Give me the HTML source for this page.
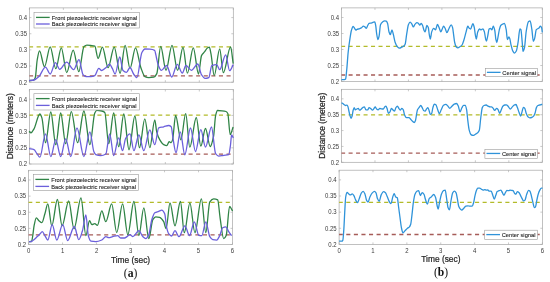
<!DOCTYPE html>
<html><head><meta charset="utf-8"><style>
html,body{margin:0;padding:0;background:#fff;overflow:hidden;}
svg{display:block;}
.tk{font-family:"Liberation Sans",Arial,sans-serif;font-size:6px;fill:#3a3a3a;}
.lb{font-family:"Liberation Sans",Arial,sans-serif;font-size:8.4px;fill:#262626;stroke:#262626;stroke-width:0.22px;}
.lg{font-family:"Liberation Sans",Arial,sans-serif;font-size:5.75px;fill:#262626;stroke:#262626;stroke-width:0.1px;}
.cap{font-family:"Liberation Serif",serif;font-weight:bold;font-size:11.6px;fill:#111;}
.par{font-weight:normal;}
</style></head><body>
<svg width="550" height="282" viewBox="0 0 550 282">
<rect x="29.4" y="7.9" width="203.90" height="74.30" fill="#fff" stroke="#a6a6a6" stroke-width="0.7"/>
<line x1="29.4" y1="82.20" x2="31.4" y2="82.20" stroke="#a6a6a6" stroke-width="0.6"/>
<line x1="233.3" y1="82.20" x2="231.3" y2="82.20" stroke="#a6a6a6" stroke-width="0.6"/>
<text transform="translate(27.00,84.55) scale(1,1.18)" class="tk" text-anchor="end">0.2</text>
<line x1="29.4" y1="66.05" x2="31.4" y2="66.05" stroke="#a6a6a6" stroke-width="0.6"/>
<line x1="233.3" y1="66.05" x2="231.3" y2="66.05" stroke="#a6a6a6" stroke-width="0.6"/>
<text transform="translate(27.00,68.40) scale(1,1.18)" class="tk" text-anchor="end">0.25</text>
<line x1="29.4" y1="49.90" x2="31.4" y2="49.90" stroke="#a6a6a6" stroke-width="0.6"/>
<line x1="233.3" y1="49.90" x2="231.3" y2="49.90" stroke="#a6a6a6" stroke-width="0.6"/>
<text transform="translate(27.00,52.25) scale(1,1.18)" class="tk" text-anchor="end">0.3</text>
<line x1="29.4" y1="33.74" x2="31.4" y2="33.74" stroke="#a6a6a6" stroke-width="0.6"/>
<line x1="233.3" y1="33.74" x2="231.3" y2="33.74" stroke="#a6a6a6" stroke-width="0.6"/>
<text transform="translate(27.00,36.09) scale(1,1.18)" class="tk" text-anchor="end">0.35</text>
<line x1="29.4" y1="17.59" x2="31.4" y2="17.59" stroke="#a6a6a6" stroke-width="0.6"/>
<line x1="233.3" y1="17.59" x2="231.3" y2="17.59" stroke="#a6a6a6" stroke-width="0.6"/>
<text transform="translate(27.00,19.94) scale(1,1.18)" class="tk" text-anchor="end">0.4</text>
<line x1="29.40" y1="82.2" x2="29.40" y2="80.2" stroke="#a6a6a6" stroke-width="0.6"/>
<line x1="29.40" y1="7.9" x2="29.40" y2="9.9" stroke="#a6a6a6" stroke-width="0.6"/>
<line x1="63.38" y1="82.2" x2="63.38" y2="80.2" stroke="#a6a6a6" stroke-width="0.6"/>
<line x1="63.38" y1="7.9" x2="63.38" y2="9.9" stroke="#a6a6a6" stroke-width="0.6"/>
<line x1="97.37" y1="82.2" x2="97.37" y2="80.2" stroke="#a6a6a6" stroke-width="0.6"/>
<line x1="97.37" y1="7.9" x2="97.37" y2="9.9" stroke="#a6a6a6" stroke-width="0.6"/>
<line x1="131.35" y1="82.2" x2="131.35" y2="80.2" stroke="#a6a6a6" stroke-width="0.6"/>
<line x1="131.35" y1="7.9" x2="131.35" y2="9.9" stroke="#a6a6a6" stroke-width="0.6"/>
<line x1="165.33" y1="82.2" x2="165.33" y2="80.2" stroke="#a6a6a6" stroke-width="0.6"/>
<line x1="165.33" y1="7.9" x2="165.33" y2="9.9" stroke="#a6a6a6" stroke-width="0.6"/>
<line x1="199.32" y1="82.2" x2="199.32" y2="80.2" stroke="#a6a6a6" stroke-width="0.6"/>
<line x1="199.32" y1="7.9" x2="199.32" y2="9.9" stroke="#a6a6a6" stroke-width="0.6"/>
<line x1="233.30" y1="82.2" x2="233.30" y2="80.2" stroke="#a6a6a6" stroke-width="0.6"/>
<line x1="233.30" y1="7.9" x2="233.30" y2="9.9" stroke="#a6a6a6" stroke-width="0.6"/>
<rect x="29.4" y="89.5" width="203.90" height="74.50" fill="#fff" stroke="#a6a6a6" stroke-width="0.7"/>
<line x1="29.4" y1="164.00" x2="31.4" y2="164.00" stroke="#a6a6a6" stroke-width="0.6"/>
<line x1="233.3" y1="164.00" x2="231.3" y2="164.00" stroke="#a6a6a6" stroke-width="0.6"/>
<text transform="translate(27.00,166.35) scale(1,1.18)" class="tk" text-anchor="end">0.2</text>
<line x1="29.4" y1="147.80" x2="31.4" y2="147.80" stroke="#a6a6a6" stroke-width="0.6"/>
<line x1="233.3" y1="147.80" x2="231.3" y2="147.80" stroke="#a6a6a6" stroke-width="0.6"/>
<text transform="translate(27.00,150.15) scale(1,1.18)" class="tk" text-anchor="end">0.25</text>
<line x1="29.4" y1="131.61" x2="31.4" y2="131.61" stroke="#a6a6a6" stroke-width="0.6"/>
<line x1="233.3" y1="131.61" x2="231.3" y2="131.61" stroke="#a6a6a6" stroke-width="0.6"/>
<text transform="translate(27.00,133.96) scale(1,1.18)" class="tk" text-anchor="end">0.3</text>
<line x1="29.4" y1="115.41" x2="31.4" y2="115.41" stroke="#a6a6a6" stroke-width="0.6"/>
<line x1="233.3" y1="115.41" x2="231.3" y2="115.41" stroke="#a6a6a6" stroke-width="0.6"/>
<text transform="translate(27.00,117.76) scale(1,1.18)" class="tk" text-anchor="end">0.35</text>
<line x1="29.4" y1="99.22" x2="31.4" y2="99.22" stroke="#a6a6a6" stroke-width="0.6"/>
<line x1="233.3" y1="99.22" x2="231.3" y2="99.22" stroke="#a6a6a6" stroke-width="0.6"/>
<text transform="translate(27.00,101.57) scale(1,1.18)" class="tk" text-anchor="end">0.4</text>
<line x1="29.40" y1="164.0" x2="29.40" y2="162.0" stroke="#a6a6a6" stroke-width="0.6"/>
<line x1="29.40" y1="89.5" x2="29.40" y2="91.5" stroke="#a6a6a6" stroke-width="0.6"/>
<line x1="63.38" y1="164.0" x2="63.38" y2="162.0" stroke="#a6a6a6" stroke-width="0.6"/>
<line x1="63.38" y1="89.5" x2="63.38" y2="91.5" stroke="#a6a6a6" stroke-width="0.6"/>
<line x1="97.37" y1="164.0" x2="97.37" y2="162.0" stroke="#a6a6a6" stroke-width="0.6"/>
<line x1="97.37" y1="89.5" x2="97.37" y2="91.5" stroke="#a6a6a6" stroke-width="0.6"/>
<line x1="131.35" y1="164.0" x2="131.35" y2="162.0" stroke="#a6a6a6" stroke-width="0.6"/>
<line x1="131.35" y1="89.5" x2="131.35" y2="91.5" stroke="#a6a6a6" stroke-width="0.6"/>
<line x1="165.33" y1="164.0" x2="165.33" y2="162.0" stroke="#a6a6a6" stroke-width="0.6"/>
<line x1="165.33" y1="89.5" x2="165.33" y2="91.5" stroke="#a6a6a6" stroke-width="0.6"/>
<line x1="199.32" y1="164.0" x2="199.32" y2="162.0" stroke="#a6a6a6" stroke-width="0.6"/>
<line x1="199.32" y1="89.5" x2="199.32" y2="91.5" stroke="#a6a6a6" stroke-width="0.6"/>
<line x1="233.30" y1="164.0" x2="233.30" y2="162.0" stroke="#a6a6a6" stroke-width="0.6"/>
<line x1="233.30" y1="89.5" x2="233.30" y2="91.5" stroke="#a6a6a6" stroke-width="0.6"/>
<rect x="28.6" y="170.3" width="203.90" height="74.20" fill="#fff" stroke="#a6a6a6" stroke-width="0.7"/>
<line x1="28.6" y1="244.50" x2="30.6" y2="244.50" stroke="#a6a6a6" stroke-width="0.6"/>
<line x1="232.5" y1="244.50" x2="230.5" y2="244.50" stroke="#a6a6a6" stroke-width="0.6"/>
<text transform="translate(26.20,246.85) scale(1,1.18)" class="tk" text-anchor="end">0.2</text>
<line x1="28.6" y1="228.37" x2="30.6" y2="228.37" stroke="#a6a6a6" stroke-width="0.6"/>
<line x1="232.5" y1="228.37" x2="230.5" y2="228.37" stroke="#a6a6a6" stroke-width="0.6"/>
<text transform="translate(26.20,230.72) scale(1,1.18)" class="tk" text-anchor="end">0.25</text>
<line x1="28.6" y1="212.24" x2="30.6" y2="212.24" stroke="#a6a6a6" stroke-width="0.6"/>
<line x1="232.5" y1="212.24" x2="230.5" y2="212.24" stroke="#a6a6a6" stroke-width="0.6"/>
<text transform="translate(26.20,214.59) scale(1,1.18)" class="tk" text-anchor="end">0.3</text>
<line x1="28.6" y1="196.11" x2="30.6" y2="196.11" stroke="#a6a6a6" stroke-width="0.6"/>
<line x1="232.5" y1="196.11" x2="230.5" y2="196.11" stroke="#a6a6a6" stroke-width="0.6"/>
<text transform="translate(26.20,198.46) scale(1,1.18)" class="tk" text-anchor="end">0.35</text>
<line x1="28.6" y1="179.98" x2="30.6" y2="179.98" stroke="#a6a6a6" stroke-width="0.6"/>
<line x1="232.5" y1="179.98" x2="230.5" y2="179.98" stroke="#a6a6a6" stroke-width="0.6"/>
<text transform="translate(26.20,182.33) scale(1,1.18)" class="tk" text-anchor="end">0.4</text>
<line x1="28.60" y1="244.5" x2="28.60" y2="242.5" stroke="#a6a6a6" stroke-width="0.6"/>
<line x1="28.60" y1="170.3" x2="28.60" y2="172.3" stroke="#a6a6a6" stroke-width="0.6"/>
<text transform="translate(28.60,252.70) scale(1,1.18)" class="tk" text-anchor="middle">0</text>
<line x1="62.58" y1="244.5" x2="62.58" y2="242.5" stroke="#a6a6a6" stroke-width="0.6"/>
<line x1="62.58" y1="170.3" x2="62.58" y2="172.3" stroke="#a6a6a6" stroke-width="0.6"/>
<text transform="translate(62.58,252.70) scale(1,1.18)" class="tk" text-anchor="middle">1</text>
<line x1="96.57" y1="244.5" x2="96.57" y2="242.5" stroke="#a6a6a6" stroke-width="0.6"/>
<line x1="96.57" y1="170.3" x2="96.57" y2="172.3" stroke="#a6a6a6" stroke-width="0.6"/>
<text transform="translate(96.57,252.70) scale(1,1.18)" class="tk" text-anchor="middle">2</text>
<line x1="130.55" y1="244.5" x2="130.55" y2="242.5" stroke="#a6a6a6" stroke-width="0.6"/>
<line x1="130.55" y1="170.3" x2="130.55" y2="172.3" stroke="#a6a6a6" stroke-width="0.6"/>
<text transform="translate(130.55,252.70) scale(1,1.18)" class="tk" text-anchor="middle">3</text>
<line x1="164.53" y1="244.5" x2="164.53" y2="242.5" stroke="#a6a6a6" stroke-width="0.6"/>
<line x1="164.53" y1="170.3" x2="164.53" y2="172.3" stroke="#a6a6a6" stroke-width="0.6"/>
<text transform="translate(164.53,252.70) scale(1,1.18)" class="tk" text-anchor="middle">4</text>
<line x1="198.52" y1="244.5" x2="198.52" y2="242.5" stroke="#a6a6a6" stroke-width="0.6"/>
<line x1="198.52" y1="170.3" x2="198.52" y2="172.3" stroke="#a6a6a6" stroke-width="0.6"/>
<text transform="translate(198.52,252.70) scale(1,1.18)" class="tk" text-anchor="middle">5</text>
<line x1="232.50" y1="244.5" x2="232.50" y2="242.5" stroke="#a6a6a6" stroke-width="0.6"/>
<line x1="232.50" y1="170.3" x2="232.50" y2="172.3" stroke="#a6a6a6" stroke-width="0.6"/>
<text transform="translate(232.50,252.70) scale(1,1.18)" class="tk" text-anchor="middle">6</text>
<rect x="341.5" y="7.9" width="200.80" height="73.60" fill="#fff" stroke="#a6a6a6" stroke-width="0.7"/>
<line x1="341.5" y1="81.50" x2="343.5" y2="81.50" stroke="#a6a6a6" stroke-width="0.6"/>
<line x1="542.3" y1="81.50" x2="540.3" y2="81.50" stroke="#a6a6a6" stroke-width="0.6"/>
<text transform="translate(339.10,83.85) scale(1,1.18)" class="tk" text-anchor="end">0.2</text>
<line x1="341.5" y1="65.50" x2="343.5" y2="65.50" stroke="#a6a6a6" stroke-width="0.6"/>
<line x1="542.3" y1="65.50" x2="540.3" y2="65.50" stroke="#a6a6a6" stroke-width="0.6"/>
<text transform="translate(339.10,67.85) scale(1,1.18)" class="tk" text-anchor="end">0.25</text>
<line x1="341.5" y1="49.50" x2="343.5" y2="49.50" stroke="#a6a6a6" stroke-width="0.6"/>
<line x1="542.3" y1="49.50" x2="540.3" y2="49.50" stroke="#a6a6a6" stroke-width="0.6"/>
<text transform="translate(339.10,51.85) scale(1,1.18)" class="tk" text-anchor="end">0.3</text>
<line x1="341.5" y1="33.50" x2="343.5" y2="33.50" stroke="#a6a6a6" stroke-width="0.6"/>
<line x1="542.3" y1="33.50" x2="540.3" y2="33.50" stroke="#a6a6a6" stroke-width="0.6"/>
<text transform="translate(339.10,35.85) scale(1,1.18)" class="tk" text-anchor="end">0.35</text>
<line x1="341.5" y1="17.50" x2="343.5" y2="17.50" stroke="#a6a6a6" stroke-width="0.6"/>
<line x1="542.3" y1="17.50" x2="540.3" y2="17.50" stroke="#a6a6a6" stroke-width="0.6"/>
<text transform="translate(339.10,19.85) scale(1,1.18)" class="tk" text-anchor="end">0.4</text>
<line x1="341.50" y1="81.5" x2="341.50" y2="79.5" stroke="#a6a6a6" stroke-width="0.6"/>
<line x1="341.50" y1="7.9" x2="341.50" y2="9.9" stroke="#a6a6a6" stroke-width="0.6"/>
<line x1="374.97" y1="81.5" x2="374.97" y2="79.5" stroke="#a6a6a6" stroke-width="0.6"/>
<line x1="374.97" y1="7.9" x2="374.97" y2="9.9" stroke="#a6a6a6" stroke-width="0.6"/>
<line x1="408.43" y1="81.5" x2="408.43" y2="79.5" stroke="#a6a6a6" stroke-width="0.6"/>
<line x1="408.43" y1="7.9" x2="408.43" y2="9.9" stroke="#a6a6a6" stroke-width="0.6"/>
<line x1="441.90" y1="81.5" x2="441.90" y2="79.5" stroke="#a6a6a6" stroke-width="0.6"/>
<line x1="441.90" y1="7.9" x2="441.90" y2="9.9" stroke="#a6a6a6" stroke-width="0.6"/>
<line x1="475.37" y1="81.5" x2="475.37" y2="79.5" stroke="#a6a6a6" stroke-width="0.6"/>
<line x1="475.37" y1="7.9" x2="475.37" y2="9.9" stroke="#a6a6a6" stroke-width="0.6"/>
<line x1="508.83" y1="81.5" x2="508.83" y2="79.5" stroke="#a6a6a6" stroke-width="0.6"/>
<line x1="508.83" y1="7.9" x2="508.83" y2="9.9" stroke="#a6a6a6" stroke-width="0.6"/>
<line x1="542.30" y1="81.5" x2="542.30" y2="79.5" stroke="#a6a6a6" stroke-width="0.6"/>
<line x1="542.30" y1="7.9" x2="542.30" y2="9.9" stroke="#a6a6a6" stroke-width="0.6"/>
<rect x="341.5" y="89.3" width="200.80" height="73.00" fill="#fff" stroke="#a6a6a6" stroke-width="0.7"/>
<line x1="341.5" y1="162.30" x2="343.5" y2="162.30" stroke="#a6a6a6" stroke-width="0.6"/>
<line x1="542.3" y1="162.30" x2="540.3" y2="162.30" stroke="#a6a6a6" stroke-width="0.6"/>
<text transform="translate(339.10,164.65) scale(1,1.18)" class="tk" text-anchor="end">0.2</text>
<line x1="341.5" y1="146.43" x2="343.5" y2="146.43" stroke="#a6a6a6" stroke-width="0.6"/>
<line x1="542.3" y1="146.43" x2="540.3" y2="146.43" stroke="#a6a6a6" stroke-width="0.6"/>
<text transform="translate(339.10,148.78) scale(1,1.18)" class="tk" text-anchor="end">0.25</text>
<line x1="341.5" y1="130.56" x2="343.5" y2="130.56" stroke="#a6a6a6" stroke-width="0.6"/>
<line x1="542.3" y1="130.56" x2="540.3" y2="130.56" stroke="#a6a6a6" stroke-width="0.6"/>
<text transform="translate(339.10,132.91) scale(1,1.18)" class="tk" text-anchor="end">0.3</text>
<line x1="341.5" y1="114.69" x2="343.5" y2="114.69" stroke="#a6a6a6" stroke-width="0.6"/>
<line x1="542.3" y1="114.69" x2="540.3" y2="114.69" stroke="#a6a6a6" stroke-width="0.6"/>
<text transform="translate(339.10,117.04) scale(1,1.18)" class="tk" text-anchor="end">0.35</text>
<line x1="341.5" y1="98.82" x2="343.5" y2="98.82" stroke="#a6a6a6" stroke-width="0.6"/>
<line x1="542.3" y1="98.82" x2="540.3" y2="98.82" stroke="#a6a6a6" stroke-width="0.6"/>
<text transform="translate(339.10,101.17) scale(1,1.18)" class="tk" text-anchor="end">0.4</text>
<line x1="341.50" y1="162.3" x2="341.50" y2="160.3" stroke="#a6a6a6" stroke-width="0.6"/>
<line x1="341.50" y1="89.3" x2="341.50" y2="91.3" stroke="#a6a6a6" stroke-width="0.6"/>
<line x1="374.97" y1="162.3" x2="374.97" y2="160.3" stroke="#a6a6a6" stroke-width="0.6"/>
<line x1="374.97" y1="89.3" x2="374.97" y2="91.3" stroke="#a6a6a6" stroke-width="0.6"/>
<line x1="408.43" y1="162.3" x2="408.43" y2="160.3" stroke="#a6a6a6" stroke-width="0.6"/>
<line x1="408.43" y1="89.3" x2="408.43" y2="91.3" stroke="#a6a6a6" stroke-width="0.6"/>
<line x1="441.90" y1="162.3" x2="441.90" y2="160.3" stroke="#a6a6a6" stroke-width="0.6"/>
<line x1="441.90" y1="89.3" x2="441.90" y2="91.3" stroke="#a6a6a6" stroke-width="0.6"/>
<line x1="475.37" y1="162.3" x2="475.37" y2="160.3" stroke="#a6a6a6" stroke-width="0.6"/>
<line x1="475.37" y1="89.3" x2="475.37" y2="91.3" stroke="#a6a6a6" stroke-width="0.6"/>
<line x1="508.83" y1="162.3" x2="508.83" y2="160.3" stroke="#a6a6a6" stroke-width="0.6"/>
<line x1="508.83" y1="89.3" x2="508.83" y2="91.3" stroke="#a6a6a6" stroke-width="0.6"/>
<line x1="542.30" y1="162.3" x2="542.30" y2="160.3" stroke="#a6a6a6" stroke-width="0.6"/>
<line x1="542.30" y1="89.3" x2="542.30" y2="91.3" stroke="#a6a6a6" stroke-width="0.6"/>
<rect x="339.1" y="170.2" width="203.30" height="74.20" fill="#fff" stroke="#a6a6a6" stroke-width="0.7"/>
<line x1="339.1" y1="244.40" x2="341.1" y2="244.40" stroke="#a6a6a6" stroke-width="0.6"/>
<line x1="542.4" y1="244.40" x2="540.4" y2="244.40" stroke="#a6a6a6" stroke-width="0.6"/>
<text transform="translate(336.70,246.75) scale(1,1.18)" class="tk" text-anchor="end">0.2</text>
<line x1="339.1" y1="228.27" x2="341.1" y2="228.27" stroke="#a6a6a6" stroke-width="0.6"/>
<line x1="542.4" y1="228.27" x2="540.4" y2="228.27" stroke="#a6a6a6" stroke-width="0.6"/>
<text transform="translate(336.70,230.62) scale(1,1.18)" class="tk" text-anchor="end">0.25</text>
<line x1="339.1" y1="212.14" x2="341.1" y2="212.14" stroke="#a6a6a6" stroke-width="0.6"/>
<line x1="542.4" y1="212.14" x2="540.4" y2="212.14" stroke="#a6a6a6" stroke-width="0.6"/>
<text transform="translate(336.70,214.49) scale(1,1.18)" class="tk" text-anchor="end">0.3</text>
<line x1="339.1" y1="196.01" x2="341.1" y2="196.01" stroke="#a6a6a6" stroke-width="0.6"/>
<line x1="542.4" y1="196.01" x2="540.4" y2="196.01" stroke="#a6a6a6" stroke-width="0.6"/>
<text transform="translate(336.70,198.36) scale(1,1.18)" class="tk" text-anchor="end">0.35</text>
<line x1="339.1" y1="179.88" x2="341.1" y2="179.88" stroke="#a6a6a6" stroke-width="0.6"/>
<line x1="542.4" y1="179.88" x2="540.4" y2="179.88" stroke="#a6a6a6" stroke-width="0.6"/>
<text transform="translate(336.70,182.23) scale(1,1.18)" class="tk" text-anchor="end">0.4</text>
<line x1="339.10" y1="244.4" x2="339.10" y2="242.4" stroke="#a6a6a6" stroke-width="0.6"/>
<line x1="339.10" y1="170.2" x2="339.10" y2="172.2" stroke="#a6a6a6" stroke-width="0.6"/>
<text transform="translate(339.10,252.60) scale(1,1.18)" class="tk" text-anchor="middle">0</text>
<line x1="372.98" y1="244.4" x2="372.98" y2="242.4" stroke="#a6a6a6" stroke-width="0.6"/>
<line x1="372.98" y1="170.2" x2="372.98" y2="172.2" stroke="#a6a6a6" stroke-width="0.6"/>
<text transform="translate(372.98,252.60) scale(1,1.18)" class="tk" text-anchor="middle">1</text>
<line x1="406.87" y1="244.4" x2="406.87" y2="242.4" stroke="#a6a6a6" stroke-width="0.6"/>
<line x1="406.87" y1="170.2" x2="406.87" y2="172.2" stroke="#a6a6a6" stroke-width="0.6"/>
<text transform="translate(406.87,252.60) scale(1,1.18)" class="tk" text-anchor="middle">2</text>
<line x1="440.75" y1="244.4" x2="440.75" y2="242.4" stroke="#a6a6a6" stroke-width="0.6"/>
<line x1="440.75" y1="170.2" x2="440.75" y2="172.2" stroke="#a6a6a6" stroke-width="0.6"/>
<text transform="translate(440.75,252.60) scale(1,1.18)" class="tk" text-anchor="middle">3</text>
<line x1="474.63" y1="244.4" x2="474.63" y2="242.4" stroke="#a6a6a6" stroke-width="0.6"/>
<line x1="474.63" y1="170.2" x2="474.63" y2="172.2" stroke="#a6a6a6" stroke-width="0.6"/>
<text transform="translate(474.63,252.60) scale(1,1.18)" class="tk" text-anchor="middle">4</text>
<line x1="508.52" y1="244.4" x2="508.52" y2="242.4" stroke="#a6a6a6" stroke-width="0.6"/>
<line x1="508.52" y1="170.2" x2="508.52" y2="172.2" stroke="#a6a6a6" stroke-width="0.6"/>
<text transform="translate(508.52,252.60) scale(1,1.18)" class="tk" text-anchor="middle">5</text>
<line x1="542.40" y1="244.4" x2="542.40" y2="242.4" stroke="#a6a6a6" stroke-width="0.6"/>
<line x1="542.40" y1="170.2" x2="542.40" y2="172.2" stroke="#a6a6a6" stroke-width="0.6"/>
<text transform="translate(542.40,252.60) scale(1,1.18)" class="tk" text-anchor="middle">6</text>
<line x1="29.4" y1="46.9" x2="233.3" y2="46.9" stroke="#b3bb2a" stroke-width="1.3" stroke-dasharray="4.102 3.495" stroke-dashoffset="0.4"/>
<line x1="29.4" y1="75.8" x2="233.3" y2="75.8" stroke="#a65c58" stroke-width="1.3" stroke-dasharray="4.102 3.495" stroke-dashoffset="0.4"/>
<line x1="29.4" y1="115.1" x2="233.3" y2="115.1" stroke="#b3bb2a" stroke-width="1.3" stroke-dasharray="4.102 3.495" stroke-dashoffset="0.4"/>
<line x1="29.4" y1="154.2" x2="233.3" y2="154.2" stroke="#a65c58" stroke-width="1.3" stroke-dasharray="4.102 3.495" stroke-dashoffset="0.4"/>
<line x1="28.6" y1="202.4" x2="232.5" y2="202.4" stroke="#b3bb2a" stroke-width="1.3" stroke-dasharray="4.102 3.495" stroke-dashoffset="0.4"/>
<line x1="28.6" y1="234.8" x2="232.5" y2="234.8" stroke="#a65c58" stroke-width="1.3" stroke-dasharray="4.102 3.495" stroke-dashoffset="0.4"/>
<line x1="341.5" y1="46.3" x2="542.3" y2="46.3" stroke="#b3bb2a" stroke-width="1.3" stroke-dasharray="4.040 3.441" stroke-dashoffset="0.4"/>
<line x1="341.5" y1="75.0" x2="542.3" y2="75.0" stroke="#a65c58" stroke-width="1.3" stroke-dasharray="4.040 3.441" stroke-dashoffset="0.4"/>
<line x1="341.5" y1="114.8" x2="542.3" y2="114.8" stroke="#b3bb2a" stroke-width="1.3" stroke-dasharray="4.040 3.441" stroke-dashoffset="0.4"/>
<line x1="341.5" y1="153.1" x2="542.3" y2="153.1" stroke="#a65c58" stroke-width="1.3" stroke-dasharray="4.040 3.441" stroke-dashoffset="0.4"/>
<line x1="339.1" y1="202.3" x2="542.4" y2="202.3" stroke="#b3bb2a" stroke-width="1.3" stroke-dasharray="4.090 3.484" stroke-dashoffset="0.4"/>
<line x1="339.1" y1="234.5" x2="542.4" y2="234.5" stroke="#a65c58" stroke-width="1.3" stroke-dasharray="4.090 3.484" stroke-dashoffset="0.4"/>
<path d="M29.00,80.60 C30.53,80.47 32.07,80.49 33.60,80.20 C34.17,80.09 34.73,79.02 35.30,77.50 C35.93,75.81 36.57,63.58 37.20,60.00 C37.97,55.67 38.73,50.80 39.50,50.80 C41.17,50.80 42.83,66.70 44.50,66.70 C46.40,66.70 48.30,46.80 50.20,46.80 C52.07,46.80 53.93,68.70 55.80,68.70 C57.63,68.70 59.47,47.80 61.30,47.80 C63.10,47.80 64.90,72.60 66.70,72.60 C68.87,72.60 71.03,50.20 73.20,50.20 C75.07,50.20 76.93,71.70 78.80,71.70 C80.53,71.70 82.27,48.10 84.00,46.60 C84.97,45.76 85.93,45.10 86.90,45.10 C88.23,45.10 89.57,45.33 90.90,45.50 C92.20,45.67 93.50,45.74 94.80,46.20 C95.90,46.59 97.00,58.40 98.10,58.40 C99.53,58.40 100.97,47.10 102.40,47.10 C104.30,47.10 106.20,67.70 108.10,67.70 C110.13,67.70 112.17,47.10 114.20,47.10 C116.17,47.10 118.13,73.30 120.10,73.30 C121.77,73.30 123.43,45.40 125.10,45.40 C126.73,45.40 128.37,68.40 130.00,68.40 C131.83,68.40 133.67,47.80 135.50,47.80 C137.30,47.80 139.10,62.77 140.90,67.70 C142.23,71.35 143.57,75.99 144.90,76.60 C146.20,77.20 147.50,77.60 148.80,77.60 C150.47,77.60 152.13,77.47 153.80,77.20 C154.80,77.04 155.80,75.59 156.80,73.60 C158.10,71.02 159.40,46.40 160.70,46.40 C162.47,46.40 164.23,70.40 166.00,70.40 C168.00,70.40 170.00,45.40 172.00,45.40 C173.87,45.40 175.73,70.40 177.60,70.40 C179.40,70.40 181.20,47.30 183.00,47.30 C184.47,47.30 185.93,73.20 187.40,73.20 C189.37,73.20 191.33,47.80 193.30,47.80 C195.03,47.80 196.77,74.00 198.50,74.00 C199.50,74.00 200.50,57.67 201.50,55.60 C202.40,53.74 203.30,53.33 204.20,52.20 C205.37,50.73 206.53,48.43 207.70,47.80 C208.23,47.51 208.77,47.20 209.30,47.20 C209.87,47.20 210.43,51.07 211.00,53.80 C212.07,58.94 213.13,75.70 214.20,75.70 C216.03,75.70 217.87,48.80 219.70,48.80 C220.90,48.80 222.10,72.70 223.30,72.70 C225.73,72.70 228.17,46.90 230.60,46.90 C231.47,46.90 232.33,58.10 233.20,63.70" fill="none" stroke="#308446" stroke-width="1.3" stroke-linejoin="round"/>
<path d="M29.00,80.60 C30.67,80.40 32.33,80.34 34.00,80.00 C35.63,79.67 37.27,78.10 38.90,76.60 C41.10,74.57 43.30,67.10 45.50,67.10 C47.07,67.10 48.63,74.00 50.20,74.00 C51.93,74.00 53.67,62.70 55.40,62.70 C56.83,62.70 58.27,69.30 59.70,69.30 C62.03,69.30 64.37,62.10 66.70,62.10 C69.00,62.10 71.30,69.70 73.60,69.70 C75.40,69.70 77.20,59.70 79.00,59.70 C80.33,59.70 81.67,73.14 83.00,74.60 C84.00,75.69 85.00,76.60 86.00,76.60 C87.63,76.60 89.27,76.60 90.90,76.60 C92.20,76.60 93.50,76.18 94.80,75.60 C96.13,75.00 97.47,68.40 98.80,68.40 C99.77,68.40 100.73,70.50 101.70,70.50 C103.10,70.50 104.50,68.83 105.90,67.70 C107.10,66.74 108.30,64.10 109.50,64.10 C110.43,64.10 111.37,66.78 112.30,68.40 C113.23,70.02 114.17,74.00 115.10,74.00 C116.67,74.00 118.23,57.00 119.80,57.00 C120.87,57.00 121.93,69.51 123.00,70.50 C124.17,71.58 125.33,72.30 126.50,72.30 C127.67,72.30 128.83,67.50 130.00,67.50 C131.20,67.50 132.40,72.37 133.60,74.00 C134.70,75.49 135.80,77.60 136.90,77.60 C138.57,77.60 140.23,55.50 141.90,52.50 C142.90,50.70 143.90,49.00 144.90,49.00 C146.53,49.00 148.17,49.09 149.80,49.20 C151.40,49.31 153.00,49.50 154.60,50.30 C155.23,50.62 155.87,55.41 156.50,58.00 C157.07,60.32 157.63,63.58 158.20,65.00 C159.27,67.67 160.33,70.40 161.40,70.40 C163.13,70.40 164.87,65.50 166.60,65.50 C168.30,65.50 170.00,77.00 171.70,77.00 C173.57,77.00 175.43,64.30 177.30,64.30 C178.97,64.30 180.63,73.00 182.30,73.00 C183.53,73.00 184.77,65.50 186.00,65.50 C187.80,65.50 189.60,70.40 191.40,70.40 C193.53,70.40 195.67,64.00 197.80,64.00 C199.03,64.00 200.27,72.80 201.50,74.70 C202.67,76.50 203.83,78.40 205.00,78.40 C206.27,78.40 207.53,78.12 208.80,77.60 C209.80,77.19 210.80,66.12 211.80,65.70 C213.43,65.02 215.07,64.70 216.70,64.70 C217.70,64.70 218.70,69.70 219.70,69.70 C221.70,69.70 223.70,54.80 225.70,54.80 C227.00,54.80 228.30,70.70 229.60,70.70 C230.80,70.70 232.00,66.70 233.20,64.70" fill="none" stroke="#6b5fdb" stroke-width="1.3" stroke-linejoin="round"/>
<path d="M29.00,131.40 C29.67,131.87 30.33,132.80 31.00,132.80 C32.00,132.80 33.00,130.49 34.00,128.80 C35.97,125.49 37.93,114.00 39.90,114.00 C40.57,114.00 41.23,115.98 41.90,117.90 C43.10,121.36 44.30,142.70 45.50,142.70 C47.27,142.70 49.03,112.00 50.80,112.00 C52.47,112.00 54.13,144.70 55.80,144.70 C57.43,144.70 59.07,113.00 60.70,113.00 C62.37,113.00 64.03,143.70 65.70,143.70 C67.57,143.70 69.43,111.60 71.30,111.60 C73.40,111.60 75.50,142.70 77.60,142.70 C79.70,142.70 81.80,111.00 83.90,111.00 C85.90,111.00 87.90,144.70 89.90,144.70 C91.53,144.70 93.17,116.23 94.80,113.00 C95.47,111.68 96.13,110.40 96.80,110.40 C98.47,110.40 100.13,110.67 101.80,111.00 C102.80,111.20 103.80,111.55 104.80,112.40 C106.10,113.50 107.40,143.70 108.70,143.70 C110.37,143.70 112.03,113.00 113.70,113.00 C115.37,113.00 117.03,146.70 118.70,146.70 C120.40,146.70 122.10,114.00 123.80,114.00 C125.53,114.00 127.27,149.70 129.00,149.70 C130.97,149.70 132.93,116.00 134.90,116.00 C136.43,116.00 137.97,147.70 139.50,147.70 C141.27,147.70 143.03,118.90 144.80,118.90 C146.47,118.90 148.13,147.70 149.80,147.70 C151.47,147.70 153.13,119.90 154.80,119.90 C155.43,119.90 156.07,129.38 156.70,131.80 C157.70,135.62 158.70,137.98 159.70,139.70 C161.03,142.00 162.37,144.02 163.70,144.70 C164.70,145.21 165.70,145.70 166.70,145.70 C167.53,145.70 168.37,141.70 169.20,141.70 C169.87,141.70 170.53,142.70 171.20,142.70 C171.67,142.70 172.13,141.18 172.60,139.70 C173.60,136.54 174.60,115.50 175.60,115.50 C177.37,115.50 179.13,139.80 180.90,139.80 C182.50,139.80 184.10,113.70 185.70,113.70 C187.07,113.70 188.43,147.20 189.80,147.20 C191.97,147.20 194.13,117.50 196.30,117.50 C197.80,117.50 199.30,146.20 200.80,146.20 C202.37,146.20 203.93,128.50 205.50,128.50 C207.07,128.50 208.63,146.50 210.20,146.50 C211.33,146.50 212.47,141.63 213.60,136.00 C214.27,132.69 214.93,118.42 215.60,115.60 C216.23,112.92 216.87,110.50 217.50,110.50 C219.00,110.50 220.50,110.65 222.00,110.80 C223.33,110.93 224.67,111.06 226.00,111.50 C226.60,111.70 227.20,112.36 227.80,113.50 C228.60,115.02 229.40,134.70 230.20,134.70 C231.17,134.70 232.13,129.57 233.10,127.00" fill="none" stroke="#308446" stroke-width="1.3" stroke-linejoin="round"/>
<path d="M29.00,148.70 C30.67,149.03 32.33,149.08 34.00,149.70 C34.97,150.06 35.93,152.37 36.90,153.60 C37.90,154.87 38.90,157.20 39.90,157.20 C41.77,157.20 43.63,133.80 45.50,133.80 C47.27,133.80 49.03,156.60 50.80,156.60 C52.47,156.60 54.13,139.70 55.80,139.70 C57.43,139.70 59.07,156.60 60.70,156.60 C62.37,156.60 64.03,138.80 65.70,138.80 C67.37,138.80 69.03,156.60 70.70,156.60 C72.80,156.60 74.90,128.00 77.00,128.00 C79.30,128.00 81.60,156.60 83.90,156.60 C85.90,156.60 87.90,131.80 89.90,131.80 C91.23,131.80 92.57,148.77 93.90,151.70 C94.53,153.09 95.17,154.35 95.80,154.60 C97.47,155.27 99.13,155.60 100.80,155.60 C102.47,155.60 104.13,155.04 105.80,154.00 C107.10,153.19 108.40,133.80 109.70,133.80 C111.03,133.80 112.37,155.60 113.70,155.60 C115.37,155.60 117.03,137.80 118.70,137.80 C120.00,137.80 121.30,150.70 122.60,150.70 C123.60,150.70 124.60,140.26 125.60,138.50 C127.07,135.92 128.53,133.80 130.00,133.80 C131.30,133.80 132.60,150.70 133.90,150.70 C135.57,150.70 137.23,134.80 138.90,134.80 C140.53,134.80 142.17,150.70 143.80,150.70 C145.80,150.70 147.80,129.80 149.80,129.80 C151.47,129.80 153.13,144.70 154.80,144.70 C156.10,144.70 157.40,128.32 158.70,127.80 C160.37,127.14 162.03,127.18 163.70,126.80 C165.33,126.43 166.97,125.50 168.60,125.50 C169.47,125.50 170.33,125.96 171.20,126.80 C171.87,127.44 172.53,136.07 173.20,139.70 C174.13,144.79 175.07,152.70 176.00,152.70 C177.43,152.70 178.87,131.90 180.30,131.90 C181.80,131.90 183.30,154.80 184.80,154.80 C186.70,154.80 188.60,128.00 190.50,128.00 C192.17,128.00 193.83,151.50 195.50,151.50 C197.27,151.50 199.03,129.60 200.80,129.60 C202.37,129.60 203.93,147.00 205.50,147.00 C207.50,147.00 209.50,127.00 211.50,127.00 C212.87,127.00 214.23,151.54 215.60,153.50 C216.63,154.98 217.67,156.10 218.70,156.10 C220.37,156.10 222.03,155.53 223.70,155.30 C225.37,155.07 227.03,155.16 228.70,154.70 C229.30,154.53 229.90,149.18 230.50,145.00 C230.87,142.45 231.23,134.80 231.60,134.80 C232.17,134.80 232.73,136.93 233.30,138.00" fill="none" stroke="#6b5fdb" stroke-width="1.3" stroke-linejoin="round"/>
<path d="M29.00,241.60 C29.87,241.50 30.73,241.52 31.60,241.30 C31.97,241.21 32.33,238.12 32.70,236.00 C33.17,233.31 33.63,228.01 34.10,225.70 C34.83,222.07 35.57,217.80 36.30,217.80 C37.17,217.80 38.03,219.97 38.90,220.70 C39.90,221.54 40.90,222.70 41.90,222.70 C42.90,222.70 43.90,216.98 44.90,213.80 C45.87,210.73 46.83,203.90 47.80,203.90 C49.13,203.90 50.47,225.70 51.80,225.70 C53.67,225.70 55.53,199.50 57.40,199.50 C58.97,199.50 60.53,225.70 62.10,225.70 C64.30,225.70 66.50,200.90 68.70,200.90 C70.47,200.90 72.23,228.70 74.00,228.70 C76.33,228.70 78.67,197.90 81.00,197.90 C82.63,197.90 84.27,235.60 85.90,235.60 C87.10,235.60 88.30,220.70 89.50,220.70 C90.30,220.70 91.10,224.70 91.90,224.70 C92.87,224.70 93.83,223.70 94.80,223.70 C95.67,223.70 96.53,225.30 97.40,225.30 C98.87,225.30 100.33,210.80 101.80,210.80 C103.13,210.80 104.47,221.70 105.80,221.70 C107.77,221.70 109.73,203.90 111.70,203.90 C113.37,203.90 115.03,232.60 116.70,232.60 C118.67,232.60 120.63,203.90 122.60,203.90 C124.33,203.90 126.07,234.60 127.80,234.60 C129.83,234.60 131.87,201.50 133.90,201.50 C135.57,201.50 137.23,235.60 138.90,235.60 C140.53,235.60 142.17,207.80 143.80,207.80 C145.47,207.80 147.13,238.60 148.80,238.60 C150.13,238.60 151.47,221.83 152.80,219.70 C153.77,218.16 154.73,216.80 155.70,216.80 C157.03,216.80 158.37,217.05 159.70,217.40 C161.03,217.75 162.37,219.52 163.70,221.70 C164.50,223.01 165.30,228.70 166.10,228.70 C167.40,228.70 168.70,202.90 170.00,202.90 C171.67,202.90 173.33,225.80 175.00,225.80 C176.80,225.80 178.60,201.50 180.40,201.50 C181.70,201.50 183.00,232.70 184.30,232.70 C186.17,232.70 188.03,202.90 189.90,202.90 C191.57,202.90 193.23,232.70 194.90,232.70 C197.07,232.70 199.23,198.90 201.40,198.90 C202.87,198.90 204.33,232.70 205.80,232.70 C207.13,232.70 208.47,203.76 209.80,201.90 C211.10,200.09 212.40,198.90 213.70,198.90 C215.03,198.90 216.37,199.20 217.70,199.90 C218.50,200.32 219.30,212.53 220.10,217.80 C221.30,225.70 222.50,238.70 223.70,238.70 C224.53,238.70 225.37,237.29 226.20,235.50 C227.33,233.07 228.47,206.50 229.60,206.50 C230.60,206.50 231.60,209.50 232.60,211.00" fill="none" stroke="#308446" stroke-width="1.3" stroke-linejoin="round"/>
<path d="M29.00,241.80 C29.83,241.70 30.67,241.67 31.50,241.50 C32.40,241.31 33.30,240.16 34.20,239.40 C35.13,238.61 36.07,237.68 37.00,236.80 C37.97,235.88 38.93,234.93 39.90,234.00 C40.70,233.23 41.50,231.70 42.30,231.70 C43.17,231.70 44.03,234.29 44.90,235.60 C45.87,237.06 46.83,240.00 47.80,240.00 C49.27,240.00 50.73,224.70 52.20,224.70 C53.73,224.70 55.27,240.00 56.80,240.00 C58.77,240.00 60.73,224.70 62.70,224.70 C64.37,224.70 66.03,240.60 67.70,240.60 C69.90,240.60 72.10,226.50 74.30,226.50 C75.80,226.50 77.30,239.60 78.80,239.60 C80.00,239.60 81.20,234.77 82.40,231.00 C83.57,227.33 84.73,215.00 85.90,215.00 C86.70,215.00 87.50,232.82 88.30,235.60 C89.17,238.61 90.03,241.05 90.90,241.20 C92.53,241.48 94.17,241.60 95.80,241.60 C97.80,241.60 99.80,240.84 101.80,240.00 C103.13,239.44 104.47,236.60 105.80,236.60 C106.77,236.60 107.73,237.60 108.70,237.60 C110.03,237.60 111.37,236.90 112.70,236.60 C114.37,236.23 116.03,235.60 117.70,235.60 C118.67,235.60 119.63,238.00 120.60,238.00 C121.93,238.00 123.27,238.00 124.60,238.00 C125.40,238.00 126.20,237.10 127.00,236.60 C128.00,235.98 129.00,234.60 130.00,234.60 C130.97,234.60 131.93,236.60 132.90,236.60 C134.90,236.60 136.90,230.70 138.90,230.70 C140.20,230.70 141.50,235.42 142.80,236.60 C143.80,237.51 144.80,238.60 145.80,238.60 C146.80,238.60 147.80,236.70 148.80,234.60 C149.80,232.50 150.80,222.84 151.80,219.70 C152.80,216.56 153.80,213.44 154.80,212.80 C156.10,211.97 157.40,211.89 158.70,211.40 C159.70,211.02 160.70,210.20 161.70,210.20 C162.70,210.20 163.70,211.65 164.70,213.80 C165.37,215.23 166.03,224.85 166.70,227.70 C167.33,230.41 167.97,232.76 168.60,233.60 C169.60,234.93 170.60,236.00 171.60,236.00 C172.73,236.00 173.87,230.70 175.00,230.70 C176.33,230.70 177.67,236.70 179.00,236.70 C180.97,236.70 182.93,225.80 184.90,225.80 C186.43,225.80 187.97,235.70 189.50,235.70 C191.10,235.70 192.70,221.80 194.30,221.80 C195.80,221.80 197.30,234.94 198.80,235.30 C199.80,235.54 200.80,235.70 201.80,235.70 C203.13,235.70 204.47,221.80 205.80,221.80 C207.13,221.80 208.47,234.65 209.80,236.70 C210.80,238.23 211.80,239.51 212.80,239.70 C214.10,239.95 215.40,240.10 216.70,240.10 C217.70,240.10 218.70,237.58 219.70,235.70 C220.70,233.82 221.70,228.39 222.70,227.80 C223.70,227.21 224.70,226.80 225.70,226.80 C226.70,226.80 227.70,230.21 228.70,231.70 C229.67,233.15 230.63,234.37 231.60,235.70" fill="none" stroke="#6b5fdb" stroke-width="1.3" stroke-linejoin="round"/>
<path d="M341.50,79.60 C342.50,79.60 343.50,79.60 344.50,79.60 C344.87,79.60 345.23,79.38 345.60,79.00 C345.97,78.63 346.33,73.53 346.70,70.00 C347.20,65.18 347.70,56.70 348.20,52.00 C348.70,47.30 349.20,43.73 349.70,40.40 C350.27,36.62 350.83,32.40 351.40,30.50 C351.97,28.60 352.53,26.50 353.10,26.50 C353.70,26.50 354.30,27.99 354.90,28.80 C355.23,29.25 355.57,30.20 355.90,30.20 C356.27,30.20 356.63,29.44 357.00,29.30 C357.73,29.02 358.47,29.02 359.20,28.80 C359.90,28.59 360.60,28.29 361.30,27.90 C362.00,27.51 362.70,26.20 363.40,26.20 C363.90,26.20 364.40,26.58 364.90,26.90 C365.37,27.20 365.83,28.30 366.30,28.30 C366.77,28.30 367.23,26.30 367.70,25.50 C368.17,24.70 368.63,23.52 369.10,23.40 C369.83,23.20 370.57,23.25 371.30,23.10 C372.00,22.95 372.70,22.40 373.40,22.20 C373.87,22.07 374.33,21.90 374.80,21.90 C375.13,21.90 375.47,24.24 375.80,26.20 C376.07,27.76 376.33,31.57 376.60,33.30 C377.03,36.11 377.47,39.70 377.90,39.70 C378.30,39.70 378.70,37.83 379.10,36.10 C379.57,34.08 380.03,25.96 380.50,24.80 C381.20,23.07 381.90,22.43 382.60,21.90 C383.30,21.37 384.00,20.80 384.70,20.80 C385.20,20.80 385.70,20.97 386.20,21.20 C386.67,21.41 387.13,22.23 387.60,23.40 C388.07,24.57 388.53,30.42 389.00,31.90 C389.43,33.27 389.87,34.70 390.30,34.70 C390.87,34.70 391.43,29.80 392.00,29.80 C392.47,29.80 392.93,32.90 393.40,34.70 C394.00,37.01 394.60,40.86 395.20,42.50 C395.93,44.50 396.67,46.07 397.40,46.80 C398.10,47.49 398.80,48.20 399.50,48.20 C400.20,48.20 400.90,47.54 401.60,47.20 C402.33,46.84 403.07,46.67 403.80,46.10 C404.27,45.74 404.73,45.14 405.20,44.00 C405.67,42.86 406.13,37.52 406.60,34.70 C407.20,31.08 407.80,26.23 408.40,24.80 C408.97,23.45 409.53,22.20 410.10,22.20 C410.70,22.20 411.30,23.26 411.90,24.10 C412.37,24.75 412.83,26.90 413.30,26.90 C413.90,26.90 414.50,24.70 415.10,24.10 C415.73,23.46 416.37,22.70 417.00,22.70 C417.47,22.70 417.93,23.07 418.40,23.40 C418.87,23.73 419.33,25.10 419.80,25.10 C420.27,25.10 420.73,23.40 421.20,23.40 C421.67,23.40 422.13,24.54 422.60,25.50 C423.10,26.53 423.60,29.54 424.10,30.50 C424.43,31.14 424.77,31.90 425.10,31.90 C425.70,31.90 426.30,25.50 426.90,25.50 C427.37,25.50 427.83,26.40 428.30,27.60 C428.63,28.46 428.97,32.91 429.30,34.70 C429.63,36.49 429.97,39.00 430.30,39.00 C430.77,39.00 431.23,33.22 431.70,31.90 C432.33,30.11 432.97,28.30 433.60,28.30 C434.27,28.30 434.93,29.80 435.60,29.80 C436.20,29.80 436.80,24.50 437.40,24.50 C437.97,24.50 438.53,26.40 439.10,27.60 C439.67,28.80 440.23,31.90 440.80,31.90 C441.27,31.90 441.73,29.95 442.20,29.00 C442.67,28.05 443.13,26.20 443.60,26.20 C444.10,26.20 444.60,27.42 445.10,28.30 C445.70,29.35 446.30,32.60 446.90,32.60 C447.53,32.60 448.17,30.15 448.80,29.00 C449.60,27.54 450.40,24.80 451.20,24.80 C451.67,24.80 452.13,26.10 452.60,27.60 C452.93,28.67 453.27,32.33 453.60,34.70 C453.97,37.30 454.33,40.90 454.70,42.50 C455.17,44.53 455.63,46.35 456.10,46.80 C456.70,47.38 457.30,47.80 457.90,47.80 C458.50,47.80 459.10,47.16 459.70,46.80 C460.40,46.38 461.10,46.14 461.80,45.40 C462.53,44.63 463.27,41.94 464.00,39.70 C464.70,37.56 465.40,34.36 466.10,31.90 C466.67,29.91 467.23,26.20 467.80,26.20 C468.27,26.20 468.73,27.95 469.20,28.30 C469.67,28.65 470.13,29.00 470.60,29.00 C471.37,29.00 472.13,23.60 472.90,23.60 C473.37,23.60 473.83,25.65 474.30,27.60 C474.63,28.99 474.97,32.91 475.30,34.70 C475.63,36.49 475.97,39.00 476.30,39.00 C476.77,39.00 477.23,33.03 477.70,31.90 C478.33,30.37 478.97,29.00 479.60,29.00 C480.10,29.00 480.60,29.80 481.10,29.80 C481.73,29.80 482.37,28.80 483.00,28.80 C483.47,28.80 483.93,30.42 484.40,31.90 C484.87,33.38 485.33,38.39 485.80,39.70 C486.03,40.35 486.27,41.10 486.50,41.10 C486.90,41.10 487.30,37.93 487.70,36.10 C488.17,33.97 488.63,29.42 489.10,29.00 C489.57,28.58 490.03,28.30 490.50,28.30 C490.97,28.30 491.43,29.80 491.90,29.80 C492.37,29.80 492.83,26.20 493.30,26.20 C493.80,26.20 494.30,28.28 494.80,30.50 C495.13,31.98 495.47,37.35 495.80,39.00 C496.13,40.65 496.47,42.50 496.80,42.50 C497.17,42.50 497.53,39.41 497.90,37.60 C498.37,35.30 498.83,31.65 499.30,29.80 C499.77,27.95 500.23,26.07 500.70,25.50 C501.33,24.72 501.97,24.39 502.60,24.10 C503.20,23.83 503.80,23.50 504.40,23.50 C505.00,23.50 505.60,26.71 506.20,29.70 C506.60,31.69 507.00,39.50 507.40,39.50 C507.90,39.50 508.40,36.80 508.90,36.80 C509.20,36.80 509.50,37.75 509.80,38.60 C510.20,39.73 510.60,43.12 511.00,44.80 C511.60,47.31 512.20,49.91 512.80,51.00 C513.37,52.03 513.93,53.10 514.50,53.10 C515.10,53.10 515.70,52.13 516.30,51.00 C516.90,49.87 517.50,45.65 518.10,42.10 C518.70,38.55 519.30,28.80 519.90,28.80 C520.23,28.80 520.57,29.17 520.90,29.70 C521.33,30.39 521.77,37.52 522.20,42.10 C522.47,44.92 522.73,51.40 523.00,51.40 C523.50,51.40 524.00,49.51 524.50,47.50 C525.07,45.22 525.63,34.96 526.20,31.50 C526.93,27.03 527.67,22.47 528.40,21.80 C528.97,21.28 529.53,20.90 530.10,20.90 C530.70,20.90 531.30,25.97 531.90,29.70 C532.37,32.60 532.83,41.30 533.30,41.30 C533.73,41.30 534.17,39.86 534.60,38.60 C535.17,36.95 535.73,30.37 536.30,29.70 C536.73,29.19 537.17,29.07 537.60,28.80 C538.07,28.51 538.53,28.37 539.00,28.00 C539.47,27.63 539.93,26.20 540.40,26.20 C540.83,26.20 541.27,26.90 541.70,28.00 C541.90,28.51 542.10,30.93 542.30,32.40" fill="none" stroke="#2f93d9" stroke-width="1.3" stroke-linejoin="round"/>
<path d="M341.50,102.70 C341.93,103.00 342.37,103.28 342.80,103.60 C343.30,103.97 343.80,104.49 344.30,104.80 C344.77,105.09 345.23,105.50 345.70,105.50 C346.07,105.50 346.43,105.10 346.80,105.10 C347.13,105.10 347.47,105.62 347.80,106.20 C348.13,106.78 348.47,109.04 348.80,110.50 C349.17,112.10 349.53,114.25 349.90,115.40 C350.30,116.66 350.70,118.30 351.10,118.30 C351.43,118.30 351.77,117.15 352.10,116.10 C352.43,115.05 352.77,111.70 353.10,110.50 C353.47,109.18 353.83,107.60 354.20,107.60 C354.57,107.60 354.93,109.80 355.30,109.80 C355.80,109.80 356.30,109.26 356.80,109.00 C357.27,108.76 357.73,108.30 358.20,108.30 C358.67,108.30 359.13,110.20 359.60,110.20 C360.17,110.20 360.73,109.47 361.30,109.00 C361.87,108.53 362.43,107.55 363.00,107.30 C363.47,107.10 363.93,106.90 364.40,106.90 C364.90,106.90 365.40,109.80 365.90,109.80 C366.50,109.80 367.10,109.80 367.70,109.80 C368.17,109.80 368.63,107.60 369.10,107.60 C369.73,107.60 370.37,108.30 371.00,108.80 C371.47,109.17 371.93,110.20 372.40,110.20 C372.97,110.20 373.53,108.98 374.10,108.30 C374.47,107.86 374.83,106.90 375.20,106.90 C375.67,106.90 376.13,108.63 376.60,109.00 C377.10,109.40 377.60,109.80 378.10,109.80 C378.67,109.80 379.23,108.30 379.80,108.30 C380.37,108.30 380.93,108.71 381.50,108.80 C382.10,108.90 382.70,109.00 383.30,109.00 C383.77,109.00 384.23,107.29 384.70,106.90 C385.10,106.57 385.50,106.20 385.90,106.20 C386.30,106.20 386.70,107.57 387.10,108.60 C387.53,109.71 387.97,113.30 388.40,113.30 C388.93,113.30 389.47,112.60 390.00,111.90 C390.47,111.28 390.93,108.30 391.40,108.30 C391.87,108.30 392.33,109.36 392.80,109.80 C393.37,110.33 393.93,111.20 394.50,111.20 C394.97,111.20 395.43,108.24 395.90,107.60 C396.40,106.91 396.90,106.20 397.40,106.20 C397.87,106.20 398.33,107.63 398.80,108.30 C399.27,108.96 399.73,110.20 400.20,110.20 C400.77,110.20 401.33,108.30 401.90,108.30 C402.37,108.30 402.83,109.00 403.30,109.80 C403.70,110.49 404.10,113.67 404.50,114.70 C404.97,115.90 405.43,117.12 405.90,117.30 C406.37,117.48 406.83,117.60 407.30,117.60 C407.87,117.60 408.43,117.60 409.00,117.60 C409.47,117.60 409.93,118.51 410.40,119.00 C411.03,119.66 411.67,120.52 412.30,121.10 C412.90,121.65 413.50,122.50 414.10,122.50 C414.57,122.50 415.03,121.55 415.50,120.40 C415.83,119.58 416.17,116.46 416.50,114.70 C416.83,112.94 417.17,110.58 417.50,109.80 C418.00,108.63 418.50,108.25 419.00,107.60 C419.60,106.82 420.20,105.50 420.80,105.50 C421.27,105.50 421.73,106.79 422.20,107.60 C422.67,108.41 423.13,110.14 423.60,110.50 C424.10,110.88 424.60,111.20 425.10,111.20 C425.57,111.20 426.03,109.57 426.50,109.00 C426.97,108.43 427.43,107.60 427.90,107.60 C428.37,107.60 428.83,109.86 429.30,111.20 C429.63,112.16 429.97,114.40 430.30,114.40 C430.77,114.40 431.23,113.94 431.70,113.30 C432.10,112.75 432.50,108.92 432.90,107.60 C433.37,106.06 433.83,104.10 434.30,104.10 C434.83,104.10 435.37,104.40 435.90,104.80 C436.50,105.25 437.10,108.21 437.70,109.70 C438.27,111.11 438.83,113.60 439.40,113.60 C440.00,113.60 440.60,110.92 441.20,109.70 C441.97,108.14 442.73,105.80 443.50,105.30 C444.27,104.80 445.03,104.40 445.80,104.40 C446.53,104.40 447.27,105.47 448.00,106.20 C448.57,106.76 449.13,108.30 449.70,108.30 C450.43,108.30 451.17,106.88 451.90,106.20 C452.67,105.48 453.43,104.41 454.20,104.10 C454.97,103.79 455.73,103.50 456.50,103.50 C457.07,103.50 457.63,104.71 458.20,105.80 C458.80,106.96 459.40,111.90 460.00,111.90 C460.60,111.90 461.20,109.06 461.80,108.00 C462.40,106.94 463.00,105.30 463.60,105.30 C464.17,105.30 464.73,105.30 465.30,105.30 C465.73,105.30 466.17,107.56 466.60,109.70 C467.00,111.67 467.40,117.27 467.80,120.40 C468.27,124.05 468.73,128.35 469.20,130.10 C469.80,132.35 470.40,134.20 471.00,134.60 C471.70,135.07 472.40,135.40 473.10,135.40 C473.87,135.40 474.63,134.63 475.40,134.20 C476.17,133.77 476.93,133.49 477.70,132.80 C478.23,132.32 478.77,131.72 479.30,130.30 C479.80,128.97 480.30,121.22 480.80,117.50 C481.30,113.78 481.80,108.66 482.30,107.60 C482.87,106.40 483.43,105.72 484.00,105.50 C484.73,105.21 485.47,105.00 486.20,105.00 C486.87,105.00 487.53,105.90 488.20,106.20 C488.83,106.49 489.47,106.90 490.10,106.90 C490.57,106.90 491.03,106.90 491.50,106.90 C491.97,106.90 492.43,107.47 492.90,107.90 C493.50,108.46 494.10,110.40 494.70,110.40 C495.37,110.40 496.03,108.30 496.70,108.30 C497.17,108.30 497.63,109.04 498.10,109.70 C498.60,110.40 499.10,113.30 499.60,113.30 C500.07,113.30 500.53,111.42 501.00,110.40 C501.60,109.09 502.20,106.80 502.80,106.20 C503.43,105.57 504.07,105.12 504.70,105.00 C505.27,104.89 505.83,104.80 506.40,104.80 C506.97,104.80 507.53,105.64 508.10,106.20 C508.83,106.93 509.57,109.00 510.30,109.00 C510.97,109.00 511.63,107.55 512.30,106.90 C513.07,106.15 513.83,105.05 514.60,104.80 C515.07,104.65 515.53,104.50 516.00,104.50 C516.47,104.50 516.93,106.43 517.40,107.60 C517.97,109.03 518.53,111.13 519.10,112.60 C519.60,113.90 520.10,116.10 520.60,116.10 C521.07,116.10 521.53,113.36 522.00,111.90 C522.47,110.44 522.93,107.30 523.40,107.30 C523.87,107.30 524.33,107.74 524.80,108.30 C525.27,108.86 525.73,112.07 526.20,113.30 C526.77,114.79 527.33,116.32 527.90,116.80 C528.53,117.34 529.17,117.80 529.80,117.80 C530.40,117.80 531.00,117.66 531.60,117.50 C532.27,117.32 532.93,116.81 533.60,116.10 C534.07,115.60 534.53,114.55 535.00,113.30 C535.47,112.05 535.93,108.58 536.40,107.60 C536.90,106.55 537.40,105.74 537.90,105.50 C538.50,105.22 539.10,105.17 539.70,105.00 C540.30,104.83 540.90,104.50 541.50,104.50 C541.77,104.50 542.03,104.50 542.30,104.50" fill="none" stroke="#2f93d9" stroke-width="1.3" stroke-linejoin="round"/>
<path d="M339.10,241.20 C340.00,241.20 340.90,241.20 341.80,241.20 C342.13,241.20 342.47,240.85 342.80,240.30 C343.13,239.75 343.47,234.41 343.80,229.90 C344.10,225.84 344.40,217.88 344.70,212.70 C345.03,206.94 345.37,198.85 345.70,197.00 C346.17,194.42 346.63,192.50 347.10,192.50 C347.73,192.50 348.37,193.80 349.00,194.20 C349.47,194.50 349.93,194.90 350.40,194.90 C351.00,194.90 351.60,193.90 352.20,193.90 C352.77,193.90 353.33,194.79 353.90,195.60 C354.47,196.41 355.03,198.84 355.60,199.90 C356.23,201.09 356.87,202.70 357.50,202.70 C358.10,202.70 358.70,200.00 359.30,198.50 C359.97,196.83 360.63,193.99 361.30,193.10 C361.93,192.25 362.57,191.40 363.20,191.40 C363.80,191.40 364.40,192.87 365.00,194.20 C365.57,195.45 366.13,199.72 366.70,200.60 C367.17,201.32 367.63,202.00 368.10,202.00 C368.70,202.00 369.30,198.31 369.90,197.00 C370.63,195.40 371.37,193.85 372.10,193.10 C372.90,192.29 373.70,191.40 374.50,191.40 C375.00,191.40 375.50,192.04 376.00,192.80 C376.47,193.51 376.93,197.43 377.40,198.50 C378.00,199.88 378.60,201.30 379.20,201.30 C379.87,201.30 380.53,196.23 381.20,194.90 C381.97,193.37 382.73,191.60 383.50,191.60 C384.17,191.60 384.83,192.16 385.50,192.80 C386.10,193.37 386.70,195.43 387.30,196.80 C388.03,198.48 388.77,201.00 389.50,202.00 C390.00,202.69 390.50,203.50 391.00,203.50 C391.63,203.50 392.27,198.23 392.90,196.50 C393.33,195.31 393.77,193.60 394.20,193.60 C394.70,193.60 395.20,196.59 395.70,197.00 C396.23,197.44 396.77,197.29 397.30,197.80 C397.73,198.22 398.17,203.85 398.60,207.00 C399.07,210.40 399.53,214.10 400.00,217.50 C400.50,221.14 401.00,225.90 401.50,228.10 C402.00,230.30 402.50,232.90 403.00,232.90 C403.63,232.90 404.27,231.58 404.90,230.90 C405.67,230.08 406.43,229.02 407.20,228.40 C407.87,227.86 408.53,227.76 409.20,227.10 C409.70,226.60 410.20,225.75 410.70,224.20 C411.13,222.86 411.57,218.18 412.00,214.70 C412.47,210.95 412.93,205.25 413.40,202.20 C413.90,198.93 414.40,195.79 414.90,194.50 C415.53,192.86 416.17,191.64 416.80,191.30 C417.43,190.96 418.07,190.70 418.70,190.70 C419.23,190.70 419.77,195.50 420.30,195.50 C420.93,195.50 421.57,192.60 422.20,192.60 C422.83,192.60 423.47,193.47 424.10,194.50 C424.53,195.21 424.97,198.02 425.40,199.30 C426.07,201.27 426.73,204.10 427.40,204.10 C428.03,204.10 428.67,199.15 429.30,198.40 C429.93,197.65 430.57,197.53 431.20,197.00 C432.03,196.30 432.87,194.50 433.70,194.50 C434.33,194.50 434.97,195.86 435.60,197.40 C436.10,198.62 436.60,203.37 437.10,205.50 C437.43,206.92 437.77,209.10 438.10,209.10 C438.57,209.10 439.03,204.81 439.50,202.70 C440.13,199.83 440.77,195.83 441.40,194.20 C442.07,192.48 442.73,190.86 443.40,190.60 C444.00,190.37 444.60,190.20 445.20,190.20 C445.67,190.20 446.13,195.59 446.60,198.40 C447.10,201.41 447.60,206.50 448.10,207.70 C448.57,208.82 449.03,209.80 449.50,209.80 C449.97,209.80 450.43,203.79 450.90,201.30 C451.50,198.10 452.10,193.78 452.70,192.80 C453.27,191.87 453.83,191.10 454.40,191.10 C454.97,191.10 455.53,191.83 456.10,192.80 C456.50,193.48 456.90,196.37 457.30,198.40 C457.77,200.76 458.23,204.96 458.70,206.20 C459.27,207.71 459.83,208.54 460.40,209.10 C460.87,209.56 461.33,210.10 461.80,210.10 C462.43,210.10 463.07,209.01 463.70,208.40 C464.40,207.73 465.10,206.43 465.80,206.20 C466.50,205.97 467.20,205.80 467.90,205.80 C468.60,205.80 469.30,206.20 470.00,206.20 C470.73,206.20 471.47,206.20 472.20,206.20 C472.67,206.20 473.13,204.26 473.60,202.70 C474.07,201.14 474.53,197.56 475.00,195.60 C475.47,193.64 475.93,191.68 476.40,190.60 C476.87,189.52 477.33,188.20 477.80,188.20 C478.43,188.20 479.07,188.20 479.70,188.20 C480.27,188.20 480.83,188.87 481.40,189.20 C481.97,189.53 482.53,190.20 483.10,190.20 C483.70,190.20 484.30,189.60 484.90,189.60 C485.40,189.60 485.90,190.20 486.40,190.20 C486.87,190.20 487.33,189.90 487.80,189.90 C488.30,189.90 488.80,191.20 489.30,191.20 C489.93,191.20 490.57,191.20 491.20,191.20 C491.70,191.20 492.20,193.59 492.70,194.90 C493.20,196.21 493.70,199.10 494.20,199.10 C494.70,199.10 495.20,196.84 495.70,195.60 C496.20,194.36 496.70,192.01 497.20,191.60 C497.83,191.08 498.47,190.95 499.10,190.70 C499.70,190.47 500.30,190.10 500.90,190.10 C501.40,190.10 501.90,191.85 502.40,192.70 C502.90,193.55 503.40,195.20 503.90,195.20 C504.40,195.20 504.90,193.50 505.40,192.70 C505.90,191.90 506.40,190.40 506.90,190.40 C507.50,190.40 508.10,190.70 508.70,190.70 C509.17,190.70 509.63,190.10 510.10,190.10 C510.60,190.10 511.10,190.30 511.60,190.40 C512.10,190.50 512.60,190.52 513.10,190.70 C513.60,190.88 514.10,192.92 514.60,193.40 C515.00,193.78 515.40,194.20 515.80,194.20 C516.30,194.20 516.80,191.60 517.30,191.60 C517.90,191.60 518.50,192.13 519.10,192.70 C519.60,193.17 520.10,194.62 520.60,195.60 C521.10,196.58 521.60,197.73 522.10,198.60 C522.60,199.47 523.10,200.90 523.60,200.90 C524.07,200.90 524.53,200.55 525.00,200.10 C525.50,199.61 526.00,196.28 526.50,194.90 C527.17,193.06 527.83,190.40 528.50,190.40 C529.00,190.40 529.50,190.74 530.00,191.20 C530.50,191.66 531.00,194.48 531.50,196.40 C531.97,198.19 532.43,200.61 532.90,202.40 C533.40,204.32 533.90,207.60 534.40,207.60 C534.77,207.60 535.13,207.26 535.50,206.80 C535.90,206.30 536.30,202.78 536.70,200.90 C537.20,198.56 537.70,195.82 538.20,194.20 C538.70,192.58 539.20,191.26 539.70,190.40 C540.27,189.42 540.83,188.20 541.40,188.20 C541.77,188.20 542.13,188.20 542.50,188.20" fill="none" stroke="#2f93d9" stroke-width="1.3" stroke-linejoin="round"/>
<rect x="34.0" y="12.5" width="105.4" height="15.5" fill="#fff" stroke="#9a9a9a" stroke-width="0.6"/>
<line x1="36.0" y1="17.4" x2="49.7" y2="17.4" stroke="#308446" stroke-width="1.3"/>
<line x1="36.0" y1="24.0" x2="49.7" y2="24.0" stroke="#6b5fdb" stroke-width="1.3"/>
<text class="lg" transform="translate(51.80,19.55) scale(1,1.06)">Front piezoelectric receiver signal</text>
<text class="lg" transform="translate(51.80,26.15) scale(1,1.06)">Back piezoelectric receiver signal</text>
<rect x="33.9" y="93.7" width="105.5" height="16.3" fill="#fff" stroke="#9a9a9a" stroke-width="0.6"/>
<line x1="35.9" y1="98.6" x2="49.599999999999994" y2="98.6" stroke="#308446" stroke-width="1.3"/>
<line x1="35.9" y1="105.4" x2="49.599999999999994" y2="105.4" stroke="#6b5fdb" stroke-width="1.3"/>
<text class="lg" transform="translate(51.70,100.75) scale(1,1.06)">Front piezoelectric receiver signal</text>
<text class="lg" transform="translate(51.70,107.55) scale(1,1.06)">Back piezoelectric receiver signal</text>
<rect x="33.4" y="174.4" width="104.9" height="15.9" fill="#fff" stroke="#9a9a9a" stroke-width="0.6"/>
<line x1="35.4" y1="179.4" x2="49.099999999999994" y2="179.4" stroke="#308446" stroke-width="1.3"/>
<line x1="35.4" y1="186.4" x2="49.099999999999994" y2="186.4" stroke="#6b5fdb" stroke-width="1.3"/>
<text class="lg" transform="translate(51.20,181.55) scale(1,1.06)">Front piezoelectric receiver signal</text>
<text class="lg" transform="translate(51.20,188.55) scale(1,1.06)">Back piezoelectric receiver signal</text>
<rect x="485.3" y="68.4" width="52.0" height="8.0" fill="#fff" stroke="#9a9a9a" stroke-width="0.6"/>
<line x1="486.90000000000003" y1="72.35" x2="500.6" y2="72.35" stroke="#2f93d9" stroke-width="1.3"/>
<text class="lg" transform="translate(502.30,74.50) scale(1,1.06)">Center signal</text>
<rect x="484.9" y="149.3" width="52.6" height="9.0" fill="#fff" stroke="#9a9a9a" stroke-width="0.6"/>
<line x1="486.5" y1="153.45" x2="500.2" y2="153.45" stroke="#2f93d9" stroke-width="1.3"/>
<text class="lg" transform="translate(501.90,155.60) scale(1,1.06)">Center signal</text>
<rect x="484.7" y="230.2" width="52.9" height="9.4" fill="#fff" stroke="#9a9a9a" stroke-width="0.6"/>
<line x1="486.3" y1="234.6" x2="500.0" y2="234.6" stroke="#2f93d9" stroke-width="1.3"/>
<text class="lg" transform="translate(501.70,236.75) scale(1,1.06)">Center signal</text>
<text class="lb" x="130.5" y="262.8" text-anchor="middle">Time (sec)</text>
<text class="lb" x="440.9" y="262.0" text-anchor="middle">Time (sec)</text>
<text class="lb" transform="translate(13.3,126.3) rotate(-90)" text-anchor="middle">Distance (meters)</text>
<text class="lb" transform="translate(324.9,125.7) rotate(-90)" text-anchor="middle">Distance (meters)</text>
<text class="cap" x="130.6" y="276.6" text-anchor="middle"><tspan class="par">(</tspan>a<tspan class="par">)</tspan></text>
<text class="cap" x="441" y="276.0" text-anchor="middle"><tspan class="par">(</tspan>b<tspan class="par">)</tspan></text>
</svg>
</body></html>
